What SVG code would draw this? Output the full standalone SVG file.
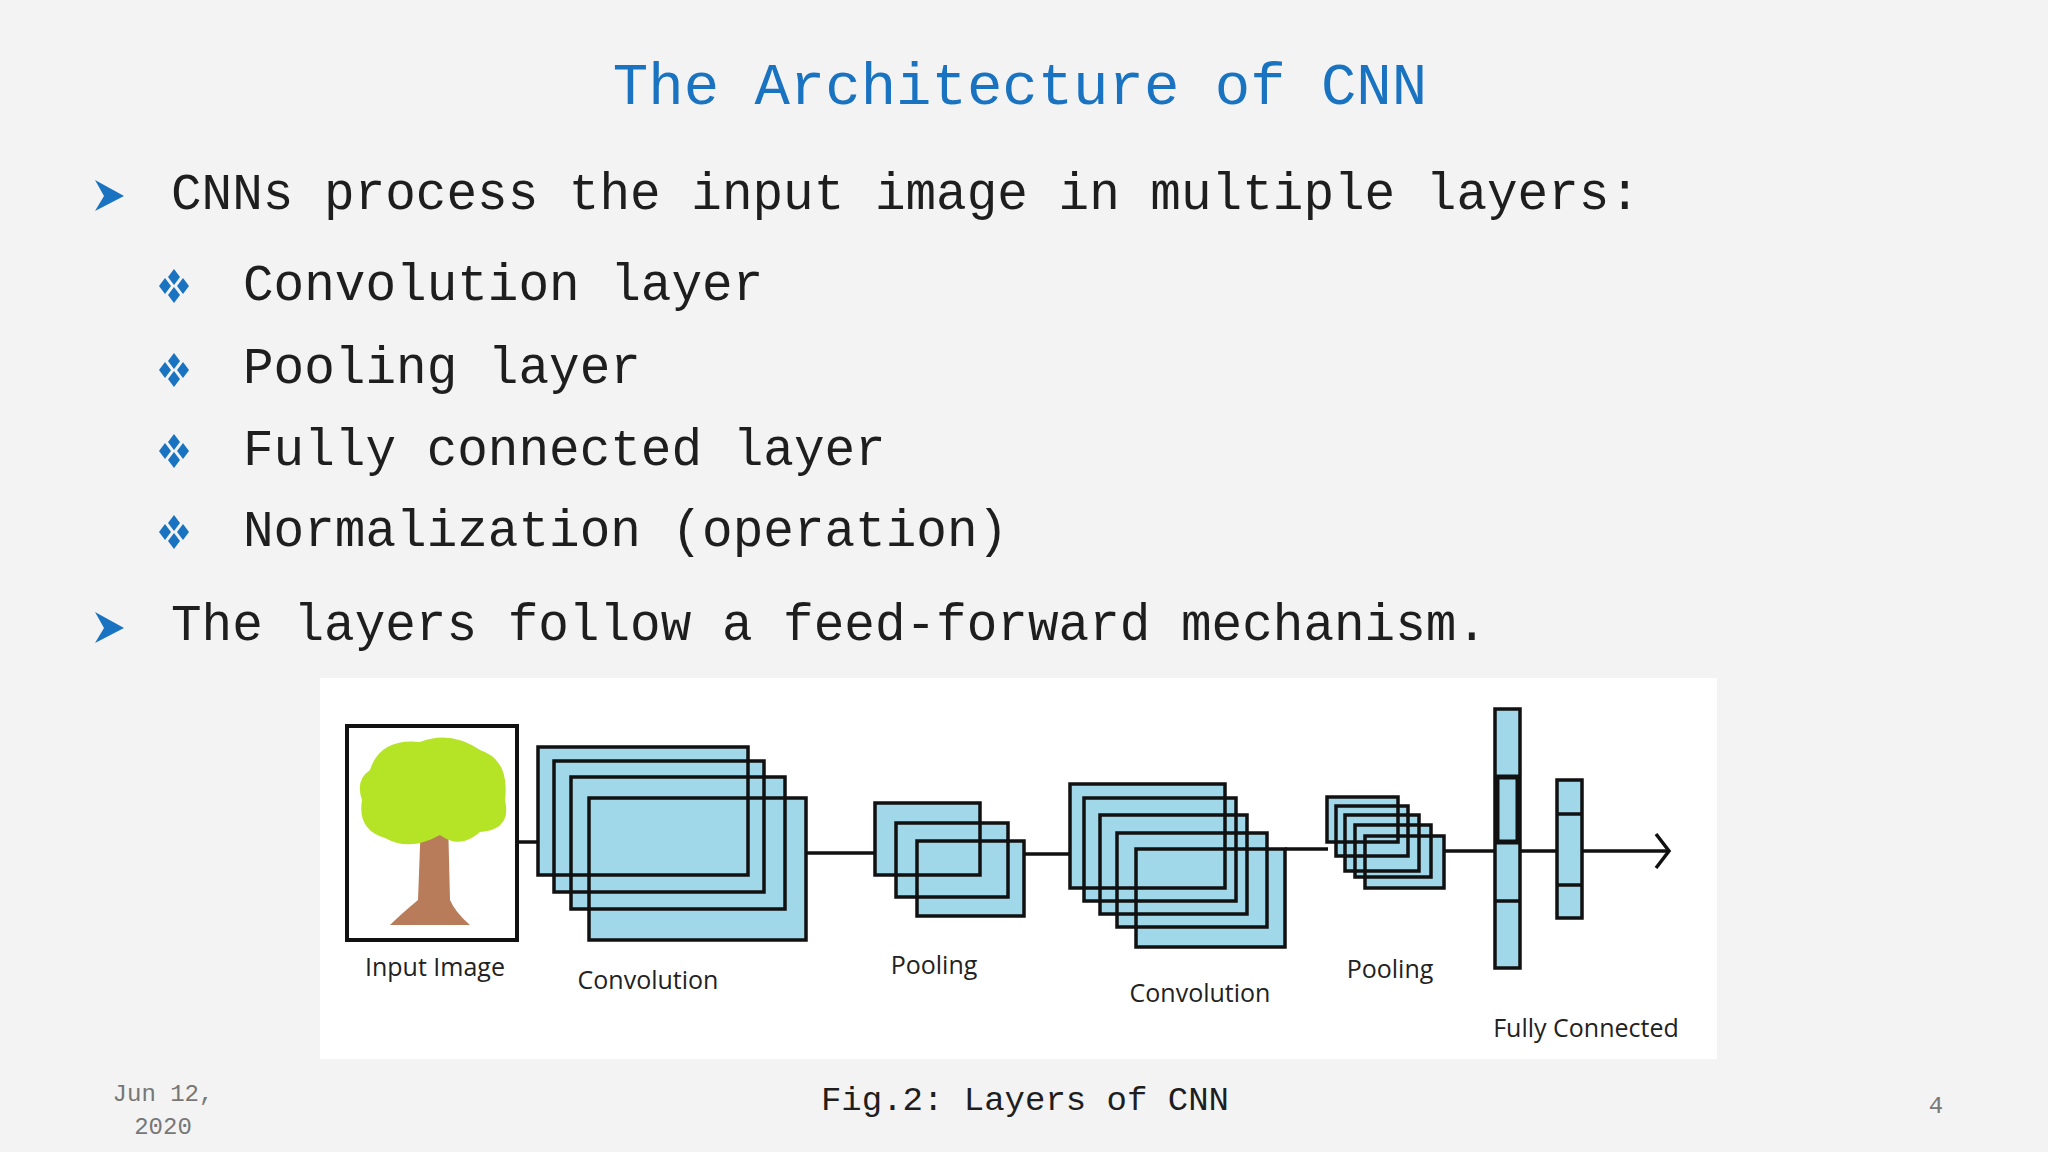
<svg xmlns="http://www.w3.org/2000/svg" width="2048" height="1152" viewBox="0 0 2048 1152">
<defs>
<style>
.mono{font-family:"Liberation Mono","DejaVu Sans Mono",monospace;fill:#1e1e1e}
.lbl{font-family:"Open Sans","Liberation Sans",sans-serif;font-size:25px;fill:#222;text-anchor:middle}
.f{fill:#a0d8ea}
.o{fill:none;stroke:#111;stroke-width:3.5}
.ln{stroke:#111;stroke-width:3.5;fill:none}
.bl{fill:#1a73c0}
</style>
<g id="d"><path d="M0,-8 L6,0 L0,8 L-6,0Z"/></g>
<g id="dia"><use href="#d" x="0" y="-9"/><use href="#d" x="0" y="9"/><use href="#d" x="-9" y="0"/><use href="#d" x="9" y="0"/></g>
<g id="c1"><rect x="538" y="747" width="210" height="128"/><rect x="554" y="761" width="210" height="131"/><rect x="571" y="777" width="214" height="132"/><rect x="589" y="798" width="217" height="142"/></g>
<g id="p1"><rect x="875" y="803" width="105" height="72"/><rect x="896" y="823" width="112" height="74"/><rect x="917" y="841" width="107" height="75"/></g>
<g id="c2"><rect x="1070" y="784" width="155" height="104"/><rect x="1084" y="798" width="152" height="103"/><rect x="1100" y="815" width="147" height="99"/><rect x="1117" y="833" width="150" height="94"/><rect x="1136" y="849" width="149" height="98"/></g>
<g id="p2"><rect x="1327" y="797" width="71" height="45"/><rect x="1336" y="806" width="72" height="50"/><rect x="1345" y="815" width="74" height="56"/><rect x="1355" y="825" width="76" height="52"/><rect x="1365" y="836" width="79" height="52"/></g>
</defs>
<rect width="2048" height="1152" fill="#f3f3f3"/>
<text x="1020" y="104" text-anchor="middle" font-family="Liberation Mono,monospace" font-size="59" fill="#1a73c0">The Architecture of CNN</text>
<g id="bullets">
<path class="bl" d="M95,180 L124,196 L95,211 L104,196Z"/>
<text class="mono" x="171" y="209" font-size="51">CNNs process the input image in multiple layers:</text>
<use href="#dia" class="bl" x="174" y="286"/>
<text class="mono" x="243" y="300" font-size="51">Convolution layer</text>
<use href="#dia" class="bl" x="174" y="370"/>
<text class="mono" x="243" y="383" font-size="51">Pooling layer</text>
<use href="#dia" class="bl" x="174" y="451"/>
<text class="mono" x="243" y="465" font-size="51">Fully connected layer</text>
<use href="#dia" class="bl" x="174" y="532"/>
<text class="mono" x="243" y="546" font-size="51">Normalization (operation)</text>
<path class="bl" d="M95,612 L124,628 L95,643 L104,628Z"/>
<text class="mono" x="171" y="640" font-size="51">The layers follow a feed-forward mechanism.</text>
</g>
<rect x="320" y="678" width="1397" height="381" fill="#fff"/>
<g id="connectors">
<line class="ln" x1="517" y1="842" x2="538" y2="842"/>
<line class="ln" x1="806" y1="853" x2="875" y2="853"/>
<line class="ln" x1="1024" y1="854" x2="1070" y2="854"/>
<line class="ln" x1="1285" y1="849" x2="1328" y2="849"/>
<line class="ln" x1="1444" y1="851" x2="1495" y2="851"/>
<line class="ln" x1="1520" y1="851" x2="1557" y2="851"/>
<line class="ln" x1="1582" y1="851" x2="1669" y2="851"/>
<path class="ln" d="M1656,834 L1669,851 L1656,868"/>
</g>
<g id="input">
<rect x="347" y="726" width="170" height="214" fill="#fff" stroke="#111" stroke-width="4"/>
<path d="M421,820 L418,900 Q400,915 390,925 L470,925 Q455,912 450,900 L448,820Z" fill="#b87c5a"/>
<path d="M370,770 Q380,738 420,742 Q450,730 480,750 Q510,760 505,800 Q512,830 480,832 Q460,850 440,835 Q410,852 385,838 Q357,830 362,800 Q355,780 370,770Z" fill="#b5e326"/>
<text class="lbl" x="435" y="976">Input Image</text>
</g>
<g id="conv1">
<use href="#c1" class="f"/><use href="#c1" class="o"/>
<text class="lbl" x="648" y="989">Convolution</text>
</g>
<g id="pool1">
<use href="#p1" class="f"/><use href="#p1" class="o"/>
<text class="lbl" x="934" y="974">Pooling</text>
</g>
<g id="conv2">
<use href="#c2" class="f"/><use href="#c2" class="o"/>
<text class="lbl" x="1200" y="1002">Convolution</text>
</g>
<g id="pool2">
<use href="#p2" class="f"/><use href="#p2" class="o"/>
<text class="lbl" x="1390" y="978">Pooling</text>
</g>
<g id="fc">
<rect class="f" x="1495" y="709" width="25" height="259"/>
<rect class="o" x="1495" y="709" width="25" height="259"/>
<line class="ln" x1="1495" y1="777" x2="1520" y2="777"/>
<rect x="1497" y="777" width="21" height="65" fill="none" stroke="#111" stroke-width="5"/>
<line class="ln" x1="1495" y1="901" x2="1520" y2="901"/>
<rect class="f" x="1557" y="780" width="25" height="138"/>
<rect class="o" x="1557" y="780" width="25" height="138"/>
<line class="ln" x1="1557" y1="814" x2="1582" y2="814"/>
<line class="ln" x1="1557" y1="885" x2="1582" y2="885"/>
<text class="lbl" x="1586" y="1037">Fully Connected</text>
</g>
<text class="mono" x="1025" y="1110" font-size="34" text-anchor="middle">Fig.2: Layers of CNN</text>
<text x="163" y="1101" font-family="Liberation Mono,monospace" font-size="24" fill="#777" text-anchor="middle">Jun 12,</text>
<text x="163" y="1134" font-family="Liberation Mono,monospace" font-size="24" fill="#777" text-anchor="middle">2020</text>
<text x="1936" y="1113" font-family="Liberation Mono,monospace" font-size="24" fill="#777" text-anchor="middle">4</text>
</svg>
